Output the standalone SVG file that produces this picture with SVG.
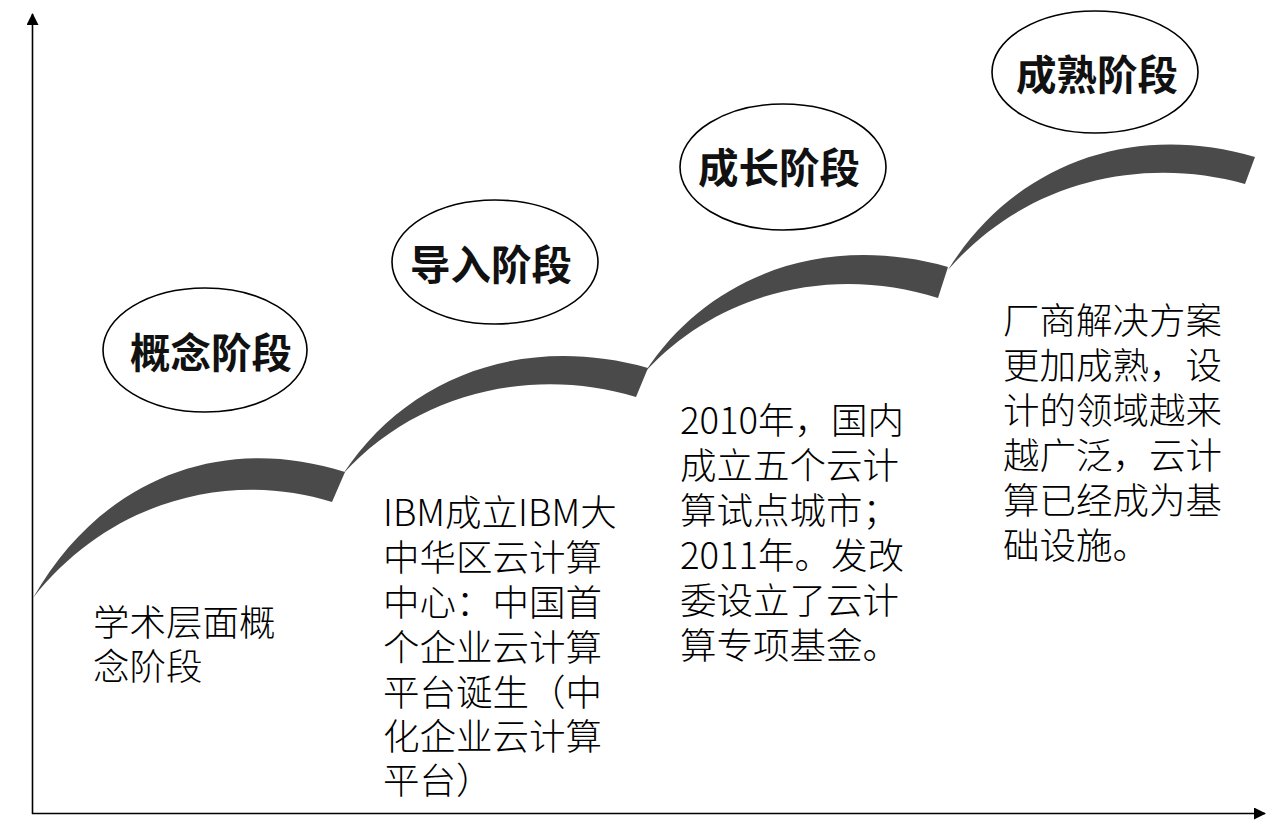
<svg xmlns="http://www.w3.org/2000/svg" width="1266" height="830" viewBox="0 0 1266 830">
<style>
.arc{fill:#4a4a4a;stroke:none}
.stage{fill:#ffffff;stroke:#000000;stroke-width:1.6}
.label{font-family:"Noto Sans CJK SC","Noto Sans",sans-serif;font-size:40.5px;font-weight:700;fill:#111111;text-anchor:middle}
.body{font-family:"Noto Sans CJK SC","Noto Sans",sans-serif;font-size:36.5px;font-weight:300;fill:#000000}
.axis{stroke:#000000;stroke-width:1.6;fill:none}
</style>
<defs>
<marker id="arrow" viewBox="0 0 12 12" refX="11" refY="6" markerWidth="12" markerHeight="12" markerUnits="userSpaceOnUse" orient="auto">
<path d="M0,0 L12,6 L0,12 Z" fill="#000000"/>
</marker>
</defs>
<rect width="1266" height="830" fill="#ffffff"/>
<g id="connectors">
<line class="axis" x1="32.5" y1="814" x2="32.5" y2="14" marker-end="url(#arrow)"/>
<line class="axis" x1="32" y1="813.5" x2="1265" y2="813.5" marker-end="url(#arrow)"/>
</g>
<g id="arcs">
<path class="arc" d="M33,598 C100,480 220,432 345,472 L332,502 C230,470 110,500 33,598 Z"/>
<path class="arc" d="M343,474 C409,374 526,334 648,368 L636,397 C535,366 418,391 343,474 Z"/>
<path class="arc" d="M645,372 C710,273 827,233 948,267 L938,298 C836,265 720,290 645,372 Z"/>
<path class="arc" d="M948,270 C1014,164 1132,121 1255,157 L1245,184 C1141,155 1024,182 948,270 Z"/>
</g>
<g id="stage1">
<ellipse class="stage" cx="205" cy="350" rx="102" ry="62"/>
<text class="label" x="211" y="368">概念阶段</text>
</g>
<g id="stage2">
<ellipse class="stage" cx="495" cy="262" rx="103" ry="62"/>
<text class="label" x="491" y="280">导入阶段</text>
</g>
<g id="stage3">
<ellipse class="stage" cx="783" cy="167" rx="103" ry="63"/>
<text class="label" x="779" y="183">成长阶段</text>
</g>
<g id="stage4">
<ellipse class="stage" cx="1095" cy="72" rx="103" ry="61"/>
<text class="label" x="1097" y="90">成熟阶段</text>
</g>
<g id="desc1">
<text class="body"><tspan x="93" y="636">学术层面概</tspan><tspan x="93" y="680">念阶段</tspan></text>
</g>
<g id="desc2">
<text class="body"><tspan x="383" y="526">IBM成立IBM大</tspan><tspan x="383" y="571">中华区云计算</tspan><tspan x="383" y="616">中心：中国首</tspan><tspan x="383" y="661">个企业云计算</tspan><tspan x="383" y="706">平台诞生（中</tspan><tspan x="383" y="750">化企业云计算</tspan><tspan x="383" y="794">平台）</tspan></text>
</g>
<g id="desc3">
<text class="body"><tspan x="680" y="434">2010年，国内</tspan><tspan x="680" y="479">成立五个云计</tspan><tspan x="680" y="524">算试点城市；</tspan><tspan x="680" y="569">2011年。发改</tspan><tspan x="680" y="614">委设立了云计</tspan><tspan x="680" y="659">算专项基金。</tspan></text>
</g>
<g id="desc4">
<text class="body"><tspan x="1003" y="334">厂商解决方案</tspan><tspan x="1003" y="379">更加成熟，设</tspan><tspan x="1003" y="424">计的领域越来</tspan><tspan x="1003" y="469">越广泛，云计</tspan><tspan x="1003" y="514">算已经成为基</tspan><tspan x="1003" y="559">础设施。</tspan></text>
</g>
</svg>
